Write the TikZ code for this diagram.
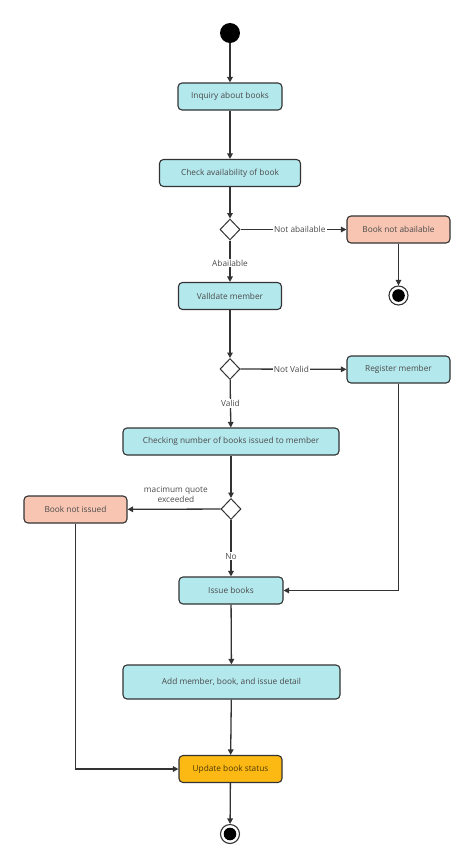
\documentclass[tikz,border=0pt]{standalone}
\usepackage{fontspec}
\setmainfont{Open Sans}
\usetikzlibrary{arrows.meta,shapes.geometric}
\definecolor{actc}{HTML}{B3E8ED}
\definecolor{badc}{HTML}{F8C5B2}
\definecolor{updc}{HTML}{FDB913}
\definecolor{lnc}{HTML}{333333}
\definecolor{txtc}{HTML}{4A4A4A}
\tikzset{
  box/.style={draw=lnc, line width=1.1pt, rounded corners=4pt, minimum height=27pt, text=txtc, font=\fontsize{8.3}{10}\selectfont, inner sep=0pt},
  act/.style={box, fill=actc},
  bad/.style={box, fill=badc},
  upd/.style={box, fill=updc, text=black!70!updc},
  dec/.style={diamond, draw=lnc, line width=1pt, fill=white, minimum width=20pt, minimum height=21pt, inner sep=0pt},
  arr/.style={draw=lnc, line width=1.3pt, -{Triangle[length=5.5pt,width=5.5pt]}},
  lab/.style={fill=white, text=txtc, font=\fontsize{8.3}{10}\selectfont, inner sep=1pt},
  startc/.style={circle, fill=black, minimum size=20pt, inner sep=0pt},
  endc/.style={circle, draw=lnc, line width=1.1pt, fill=white, minimum size=19pt, inner sep=0pt,
    path picture={\fill[black] (path picture bounding box.center) circle (6.3pt);}}
}
\begin{document}
\begin{tikzpicture}[x=1pt,y=-1pt]
\useasboundingbox (0,0) rectangle (474,868);
\node[startc] (s) at (230,33) {};
\node[act, minimum width=104pt] (inq) at (230,96.5) {Inquiry about books};
\node[act, minimum width=141pt] (chk) at (230,173) {Check availability of book};
\node[dec] (d1) at (230,229.5) {};
\node[bad, minimum width=103pt] (bna) at (398.5,229.5) {Book not abailable};
\node[endc] (e1) at (398.5,295.5) {};
\node[act, minimum width=103pt] (val) at (230,296) {Valldate member};
\node[dec] (d2) at (230,369) {};
\node[act, minimum width=103pt] (reg) at (398.5,369.5) {Register member};
\node[act, minimum width=216pt] (chn) at (231,441.5) {Checking number of books issued to member};
\node[dec] (d3) at (231,509) {};
\node[bad, minimum width=103pt] (bni) at (75.5,509.5) {Book not issued};
\node[act, minimum width=104pt] (iss) at (231,590.5) {Issue books};
\node[act, minimum width=217pt, minimum height=34pt] (add) at (231.5,682) {Add member, book, and issue detail};
\node[upd, minimum width=103pt] (ups) at (230.5,769) {Update book status};
\node[endc] (e2) at (230,834) {};

\draw[arr] (s) -- (inq);
\draw[arr] (inq) -- (chk);
\draw[arr] (chk) -- (d1);
\draw[arr] (d1) -- node[lab, pos=0.56] {Not abailable} (bna);
\draw[arr] (bna) -- (e1);
\draw[arr] (d1) -- node[lab, pos=0.55] {Abailable} (val);
\draw[arr] (val) -- (d2);
\draw[arr] (d2) -- node[lab, pos=0.48] {Not Valid} (reg);
\draw[arr] (d2) -- node[lab, pos=0.5] {Valid} (chn);
\draw[arr] (chn) -- (d3);
\draw[arr] (d3) -- node[lab, above=5pt, pos=0.48, align=center, fill=none] {macimum quote\\exceeded} (bni);
\draw[arr] (d3) -- node[lab, pos=0.64] {No} (iss);
\draw[arr] (reg.south) |- (iss.east);
\draw[arr] (iss) -- (add);
\draw[arr] (add) -- (ups);
\draw[arr] (bni.south) |- (ups.west);
\draw[arr] (ups) -- (e2);
\end{tikzpicture}
\end{document}
